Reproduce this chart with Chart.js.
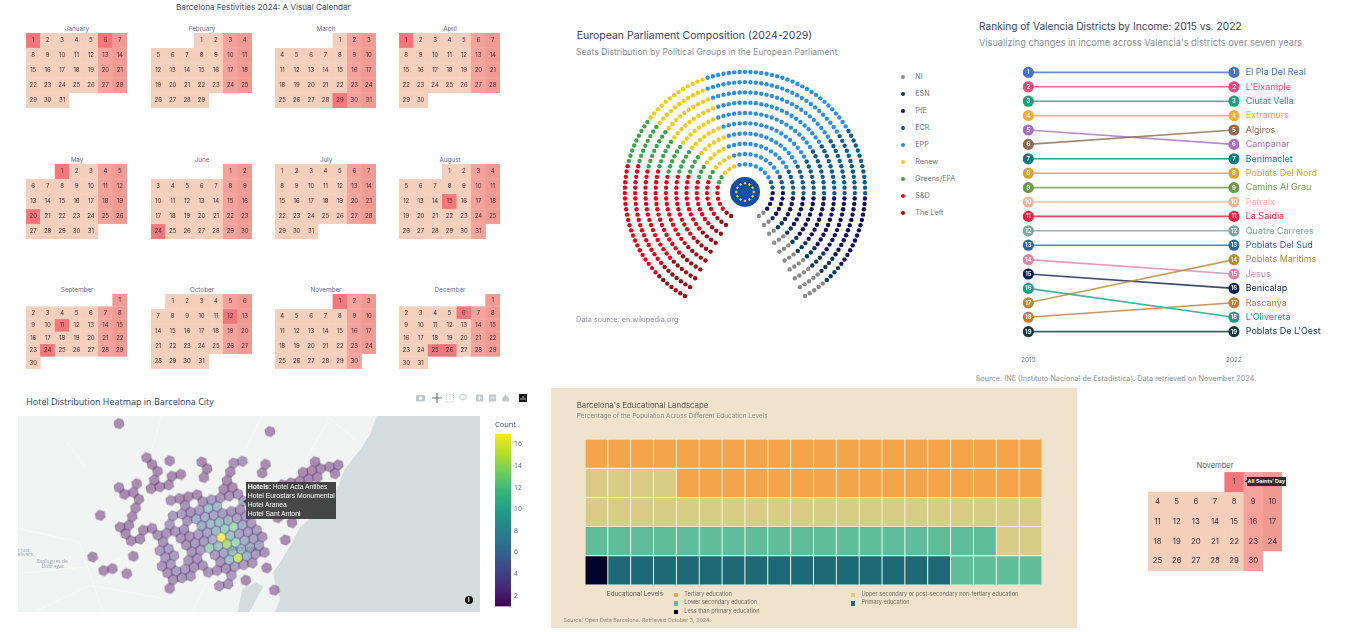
<!DOCTYPE html>
<html>
<head>
<meta charset="utf-8">
<title>Barcelona and Europe dashboards</title>
<script src="https://cdn.jsdelivr.net/npm/chart.js@4"></script>
<style>
    html, body { margin: 0; padding: 0; background: #fff; width: 1358px; height: 632px; overflow: hidden; }
    canvas { position: absolute; display: block; }
    .txt { position: absolute; white-space: nowrap; line-height: 1; }
    .box { position: absolute; }
</style>
</head>
<body>
<script>
// Festivities calendar
const monthNames = ['January', 'February', 'March', 'April', 'May', 'June', 'July', 'August', 'September', 'October', 'November', 'December'];
const monthLengths = [31, 29, 31, 30, 31, 30, 31, 31, 30, 31, 30, 31];
const monthFirstWeekday = [0, 3, 4, 0, 2, 5, 0, 3, 6, 1, 4, 6];
const monthHolidays = [[1, 6], [], [29], [1], [1, 20], [24], [], [15], [11, 24], [12], [1], [6, 25, 26]];
const weekdayLabels = ['Mon', 'Tue', 'Wed', 'Thu', 'Fri', 'Sat', 'Sun'];

// European Parliament
const groupNames = ['The Left', 'S&D', 'Greens/EFA', 'Renew', 'EPP', 'ECR', 'PfE', 'ESN', 'NI'];
const groupSeats = [46, 136, 53, 77, 188, 78, 84, 25, 33];
const rowSeats = [27, 37, 47, 57, 67, 77, 87, 97, 107, 117];
const groupColors = ['#9b0d14', '#dc0a1e', '#3fa34d', '#f6c915', '#2b8fe8', '#0d5c8d', '#12105e', '#0b3a5a', '#8a8a8a'];

// Valencia ranking
const rankYears = ['2015', '2022'];
const districtNames = ['El Pla Del Real', "L'Eixample", 'Ciutat Vella', 'Extramurs', 'Algiros', 'Campanar', 'Benimaclet', 'Poblats Del Nord', 'Camins Al Grau', 'Patraix', 'La Saidia', 'Quatre Carreres', 'Poblats Del Sud', 'Poblats Maritims', 'Jesus', 'Benicalap', 'Rascanya', "L'Olivereta", "Poblats De L'Oest"];
const rank2015 = [1, 2, 3, 4, 6, 5, 7, 8, 9, 10, 11, 12, 13, 17, 14, 15, 18, 16, 19];
const rank2022 = [1, 2, 3, 4, 5, 6, 7, 8, 9, 10, 11, 12, 13, 14, 15, 16, 17, 18, 19];
const districtColors = ['#4472c4', '#e8487c', '#0ba678', '#f9a83c', '#8b6a4f', '#a86fc0', '#0a7c80', '#d9a621', '#6f9a4d', '#f5b39c', '#e0243c', '#7ba79c', '#2a6a9a', '#b08a3e', '#e082a8', '#0f1f4f', '#c07c34', '#15a085', '#123a40'];

// Hotel hexbin: [lattice column, lattice row, hotel count]
const hexCells = [
    [-1, -17, 1], [13, -12, 1], [-1, -12, 1], [-1, -11, 1], [1, -11, 1], [-1, -10, 1], [4, -10, 1],
    [-2, -9, 1], [0, -9, 1], [1, -9, 1], [4, -9, 1], [7, -9, 2], [8, -9, 2], [-4, -9, 1], [-6, -9, 1],
    [-3, -8, 1], [-2, -8, 1], [-1, -8, 1], [3, -8, 1], [6, -8, 1], [10, -8, 1], [-6, -8, 1], [-5, -8, 1],
    [5, -7, 1], [9, -7, 1], [-5, -7, 1], [15, -7, 1],
    [4, -6, 1], [5, -6, 1], [-6, -6, 1], [-10, -6, 1], [-2, -6, 2], [-1, -6, 1], [0, -6, 1], [1, -6, 1],
    [13, -6, 1], [14, -6, 1], [15, -6, 1], [16, -6, 1], [17, -6, 1],
    [-7, -5, 1], [-1, -5, 2], [1, -5, 2], [2, -5, 3], [3, -5, 2], [4, -5, 2], [5, -5, 2],
    [10, -5, 1], [11, -5, 1], [12, -5, 1], [13, -5, 1], [14, -5, 1], [16, -5, 1],
    [-9, -4, 1], [-8, -4, 1], [-3, -4, 3], [-2, -4, 3], [-1, -4, 2], [0, -4, 3], [1, -4, 8], [2, -4, 7], [5, -4, 4],
    [-9, -3, 1], [-7, -3, 1], [-6, -3, 1], [-4, -3, 3], [-2, -3, 2], [-1, -3, 6], [0, -3, 5], [1, -3, 4], [2, -3, 3], [3, -3, 2], [4, -3, 2],
    [-9, -2, 1], [-8, -2, 1], [-6, -2, 2], [-5, -2, 2], [-4, -2, 2], [-3, -2, 2], [-1, -2, 5], [0, -2, 7], [1, -2, 8], [2, -2, 6], [3, -2, 4], [4, -2, 3],
    [-14, -1, 1], [7, -1, 1], [-6, -1, 2], [-4, -1, 2], [-3, -1, 2], [-2, -1, 3], [-1, -1, 4], [0, -1, 7], [1, -1, 10], [2, -1, 12], [3, -1, 5], [4, -1, 3],
    [-10, 0, 1], [8, 0, 1], [-7, 0, 3], [-6, 0, 3], [-4, 0, 2], [-3, 0, 3], [-2, 0, 3], [-1, 0, 5], [0, 0, 17], [1, 0, 8], [2, 0, 4], [3, 0, 3], [4, 0, 3],
    [-14, 1, 1], [-13, 1, 1], [-7, 1, 3], [-6, 1, 3], [-4, 1, 2], [-3, 1, 3], [-2, 1, 11], [-1, 1, 8], [0, 1, 14], [1, 1, 12], [2, 1, 6], [3, 1, 4], [4, 1, 2],
    [-12, 2, 1], [6, 2, 1], [-8, 2, 2], [-7, 2, 3], [-5, 2, 2], [-4, 2, 2], [-2, 2, 3], [-1, 2, 4], [0, 2, 7], [1, 2, 7], [2, 2, 5], [3, 2, 4],
    [-8, 3, 2], [-7, 3, 3], [-6, 3, 3], [-5, 3, 2], [-4, 3, 2], [-2, 3, 2], [-1, 3, 8], [0, 3, 15], [1, 3, 6], [2, 3, 3], [3, 3, 2],
    [-8, 4, 2], [-7, 4, 2], [-6, 4, 2], [-4, 4, 2], [-3, 4, 2], [-2, 4, 2], [-1, 4, 3], [0, 4, 3], [1, 4, 2],
    [-9, 5, 1], [-2, 5, 3], [2, 5, 1], [-4, 6, 2], [-3, 6, 2], [-1, 6, 1], [1, 8, 1]
];
const viridisStops = ['#440154', '#482878', '#3e4989', '#31688e', '#26828e', '#1f9e89', '#35b779', '#6ece58', '#b5de2b', '#fde725'];
const colorbarTicks = [2, 4, 6, 8, 10, 12, 14, 16];
const hotelNames = ['Hotel Eurostars Monumental', 'Hotel Aranea', 'Hotel Sant Antoni'];

// Education waffle, filled from the bottom left
const eduLevels = ['Less than primary education', 'Primary education', 'Lower secondary education', 'Upper secondary or post-secondary non-tertiary education', 'Tertiary education'];
const eduShares = [1, 15, 22, 26, 36];
const eduColors = ['#02022a', '#1b6a75', '#5fbd9b', '#d9cc85', '#f4a549'];

Chart.defaults.font.family = 'Inter';
Chart.defaults.animation = false;
Chart.defaults.responsive = false;
Chart.defaults.events = [];
Chart.defaults.layout.autoPadding = false;
Chart.defaults.plugins.legend.display = false;
Chart.defaults.plugins.tooltip.enabled = false;

const measureCtx = document.createElement('canvas').getContext('2d');

// places a text, if opts.width is given the font size is picked so the text has that width
function addText(text, x, y, opts) {
    const family = opts.family || 'Inter';
    const weight = opts.weight || 400;
    let size = opts.size;
    if (opts.width) {
        measureCtx.font = weight + ' 100px ' + family;
        size = opts.width / measureCtx.measureText(text).width * 100;
    }
    const el = document.createElement('div');
    el.className = 'txt';
    el.textContent = text;
    el.style.left = x + 'px';
    el.style.top = y + 'px';
    el.style.fontFamily = family;
    el.style.fontWeight = weight;
    el.style.fontSize = size + 'px';
    el.style.color = opts.color || '#333';
    el.style.transform = opts.center ? 'translate(-50%, -50%)' : 'translateY(-50%)';
    document.body.appendChild(el);
}

function addBox(x, y, w, h, color, radius) {
    const el = document.createElement('div');
    el.className = 'box';
    el.style.left = x + 'px';
    el.style.top = y + 'px';
    el.style.width = w + 'px';
    el.style.height = h + 'px';
    el.style.background = color;
    if (radius) el.style.borderRadius = radius;
    document.body.appendChild(el);
    return el;
}

function addCanvas(x, y, w, h) {
    const c = document.createElement('canvas');
    c.width = w;
    c.height = h;
    c.style.left = x + 'px';
    c.style.top = y + 'px';
    document.body.appendChild(c);
    return c;
}

// ---------- calendars ----------
const dayLabelsPlugin = {
    id: 'dayLabels',
    afterDatasetsDraw(chart, args, opts) {
        const ctx = chart.ctx;
        ctx.save();
        ctx.font = opts.size + 'px Inter';
        ctx.fillStyle = '#4a2f30';
        ctx.textAlign = 'center';
        ctx.textBaseline = 'middle';
        chart.data.datasets.forEach(function (ds, i) {
            chart.getDatasetMeta(i).data.forEach(function (bar, k) {
                if (ds.dayNumbers[k] == null) return;
                ctx.fillText(ds.dayNumbers[k], bar.x, (bar.y + bar.base) / 2);
            });
        });
        ctx.restore();
    }
};

function cellColor(m, day, weekday) {
    if (monthHolidays[m].indexOf(day) !== -1) return '#f1777c';
    if (weekday === 5) return '#f3a39b';
    if (weekday === 6) return '#ef9a93';
    return '#f3cfbc';
}

function drawMonth(m, x, y, w, h, fontSize) {
    const first = monthFirstWeekday[m];
    const weeks = Math.ceil((first + monthLengths[m]) / 7);
    const datasets = [];
    for (let wk = 0; wk < weeks; wk++) {
        const spans = [];
        const days = [];
        for (let d = 0; d < 7; d++) {
            const day = wk * 7 + d - first + 1;
            const inMonth = day >= 1 && day <= monthLengths[m];
            spans.push(inMonth ? [wk, wk + 1] : null);
            days.push(inMonth ? day : null);
        }
        datasets.push({
            data: spans,
            dayNumbers: days,
            backgroundColor: function (c) { return cellColor(m, days[c.dataIndex], c.dataIndex); },
            borderColor: function (c) { return cellColor(m, days[c.dataIndex], c.dataIndex); },
            borderWidth: 0.5,
            borderSkipped: false
        });
    }
    new Chart(addCanvas(x, y, w, h), {
        type: 'bar',
        data: { labels: weekdayLabels, datasets: datasets },
        options: {
            grouped: false,
            barPercentage: 1,
            categoryPercentage: 1,
            plugins: { dayLabels: { size: fontSize } },
            scales: {
                x: { display: false },
                y: { display: false, reverse: true, min: 0, max: weeks }
            }
        },
        plugins: [dayLabelsPlugin]
    });
}

addText('Barcelona Festivities 2024: A Visual Calendar', 176, 6.5, { width: 175, color: '#3d4a6b' });

const calendarLefts = [26, 151, 275, 399];
const calendarTops = [33, 164, 294];
monthNames.forEach(function (name, m) {
    const col = m % 4;
    const row = Math.floor(m / 4);
    drawMonth(m, calendarLefts[col], calendarTops[row], 101, 75, 6);
    addText(name, calendarLefts[col] + 51, calendarTops[row] - 4.2, { size: 6.3, color: '#5d6a88', center: true });
});

// the enlarged November
drawMonth(10, 1148, 472, 134, 99, 7.8);
addText('November', 1215, 466, { width: 37, color: '#4f5c7c', center: true });
addBox(1247, 477, 39, 9, '#2d2d2d');
addBox(1244.5, 479, 4, 4.5, '#2d2d2d').style.clipPath = 'polygon(100% 0, 100% 100%, 0 50%)';
addText("All Saints' Day", 1247.6, 481.5, { width: 37.5, color: '#fff', family: 'Liberation Sans', weight: 700 });

// ---------- parliament ----------
const rowUnit = 10.27;
const seats = [];
rowSeats.forEach(function (n, r) {
    const radius = r + 2.7;
    for (let i = 0; i < n; i++) {
        const theta = (30 + 300 * i / (n - 1)) * Math.PI / 180;
        seats.push({ theta: theta, x: -radius * Math.sin(theta), y: -radius * Math.cos(theta) });
    }
});
seats.sort(function (a, b) { return a.theta - b.theta; });

const seatDatasets = [];
let seatIndex = 0;
groupSeats.forEach(function (count, g) {
    seatDatasets.push({
        label: groupNames[g],
        data: seats.slice(seatIndex, seatIndex + count),
        backgroundColor: groupColors[g],
        borderWidth: 0,
        pointRadius: 2.2
    });
    seatIndex += count;
});

const euStars = [];
for (let i = 0; i < 12; i++) {
    euStars.push({ x: 0.85 * Math.cos(i * Math.PI / 6), y: 0.85 * Math.sin(i * Math.PI / 6) });
}
seatDatasets.unshift({ label: 'stars', data: euStars, pointStyle: 'rectRot', pointRadius: 1.5, borderWidth: 0, backgroundColor: '#f2d94e', order: -1 });
seatDatasets.push({ label: 'EU', data: [{ x: 0, y: 0 }], pointRadius: 15, borderWidth: 0, backgroundColor: '#0d4fa3', order: 5 });

new Chart(addCanvas(620, 67, 250, 250), {
    type: 'scatter',
    data: { datasets: seatDatasets },
    options: {
        scales: {
            x: { display: false, min: -125 / rowUnit, max: 125 / rowUnit },
            y: { display: false, min: -125 / rowUnit, max: 125 / rowUnit }
        }
    }
});

addText('European Parliament Composition (2024-2029)', 576.7, 36, { width: 235.6, color: '#3b4160' });
addText('Seats Distribution by Political Groups in the European Parliament', 576, 51.7, { width: 261.7, color: '#8b8f97' });
addText('Data source: en.wikipedia.org', 576, 320.3, { width: 102.7, color: '#8b8f97' });
groupNames.slice().reverse().forEach(function (name, i) {
    const y = 77.3 + i * 17;
    addBox(901, y - 2.2, 4.4, 4.4, groupColors[groupNames.length - 1 - i], '50%');
    addText(name, 915.3, y, { size: 7.2, color: '#6d7480' });
});

// ---------- ranking ----------
const rankLabelsPlugin = {
    id: 'rankLabels',
    afterDatasetsDraw(chart) {
        const ctx = chart.ctx;
        ctx.save();
        ctx.textBaseline = 'middle';
        chart.data.datasets.forEach(function (ds, i) {
            const pts = chart.getDatasetMeta(i).data;
            ctx.fillStyle = '#fff';
            ctx.textAlign = 'center';
            ctx.font = '600 6px Inter';
            pts.forEach(function (p, k) {
                ctx.fillText(ds.data[k], p.x, p.y + 0.3);
            });
            ctx.fillStyle = ds.pointBackgroundColor;
            ctx.textAlign = 'left';
            ctx.font = '9px Inter';
            ctx.fillText(ds.label, pts[1].x + 11.7, pts[1].y);
        });
        ctx.restore();
    }
};

new Chart(addCanvas(1000, 58, 350, 314), {
    type: 'line',
    data: {
        labels: rankYears,
        datasets: districtNames.map(function (name, i) {
            return {
                label: name,
                data: [rank2015[i], rank2022[i]],
                borderColor: districtColors[i] + 'd0',
                borderWidth: 1.6,
                pointBackgroundColor: districtColors[i],
                pointBorderWidth: 0,
                pointRadius: 5.6
            };
        })
    },
    options: {
        layout: { padding: { left: 28.3, right: 116 } },
        scales: {
            x: {
                offset: false,
                grid: { display: false, drawTicks: false },
                border: { display: false },
                ticks: { color: '#6f7680', font: { size: 6.5 }, padding: 10 },
                afterFit: function (axis) { axis.height = 26; }
            },
            y: { display: false, reverse: true, min: 0, max: 20 }
        }
    },
    plugins: [rankLabelsPlugin]
});

addText('Ranking of Valencia Districts by Income: 2015 vs. 2022', 979, 26, { width: 263, color: '#3d4258' });
addText("Visualizing changes in income across Valencia's districts over seven years", 979, 42.7, { width: 323.7, color: '#8b8f97' });
addText('Source: INE (Instituto Nacional de Estadística). Data retrieved on November 2024.', 975.7, 378.7, { width: 281, color: '#8b8f97' });

// ---------- hexbin map ----------
const seaOutline = [[1095, 93], [1075, 150], [1050, 190], [1000, 255], [985, 300], [955, 350], [900, 400], [870, 430], [850, 470], [815, 530], [795, 560], [800, 600], [815, 640], [800, 680], [1395, 680], [1395, 93]];
const portBasin = [[705, 610], [745, 590], [765, 605], [725, 680], [690, 680]];
const mapRoads = [
    [[470, 93], [440, 200], [395, 340], [380, 430], [370, 560]],
    [[53, 565], [300, 540], [480, 470], [700, 420]],
    [[960, 93], [880, 240], [800, 290]],
    [[760, 93], [700, 220], [640, 330]],
    [[560, 680], [600, 590], [640, 470]],
    [[950, 93], [1040, 170]],
    [[195, 170], [250, 250]],
    [[53, 430], [230, 470], [300, 680]],
    [[100, 680], [260, 600], [480, 640]]
];
const mapPlaceNames = [['t Just', 70, 495], ['Desvern', 70, 509], ['Esplugues de', 153, 530], ['Llobregat', 153, 545], ['BARCELONA', 707, 492]];

function hexColor(count, alpha) {
    const t = (count - 1) / 16 * (viridisStops.length - 1);
    const lo = Math.floor(t);
    const hi = Math.min(lo + 1, viridisStops.length - 1);
    const a = parseInt(viridisStops[lo].slice(1), 16);
    const b = parseInt(viridisStops[hi].slice(1), 16);
    const f = t - lo;
    const mix = function (s) { return Math.round((a >> s & 255) * (1 - f) + (b >> s & 255) * f); };
    return 'rgba(' + mix(16) + ',' + mix(8) + ',' + mix(0) + ',' + alpha + ')';
}

function hexSprite(count) {
    const size = 14;
    const c = document.createElement('canvas');
    c.width = size;
    c.height = size;
    const ctx = c.getContext('2d');
    ctx.beginPath();
    for (let k = 0; k < 6; k++) {
        const ang = (18 + 60 * k) * Math.PI / 180;
        ctx.lineTo(size / 2 + 5.4 * Math.cos(ang), size / 2 + 5.4 * Math.sin(ang));
    }
    ctx.closePath();
    ctx.fillStyle = hexColor(count, count > 12 ? 0.65 : 0.42);
    ctx.fill();
    ctx.strokeStyle = 'rgba(68,1,84,0.42)';
    ctx.lineWidth = 0.6;
    ctx.stroke();
    return c;
}

const mapBasePlugin = {
    id: 'mapBase',
    beforeDatasetsDraw(chart) {
        const ctx = chart.ctx;
        const sx = chart.scales.x;
        const sy = chart.scales.y;
        const trace = function (points) {
            ctx.beginPath();
            points.forEach(function (p) { ctx.lineTo(sx.getPixelForValue(p[0]), sy.getPixelForValue(p[1])); });
        };
        ctx.save();
        ctx.fillStyle = '#f2f3f3';
        ctx.fillRect(0, 0, chart.width, chart.height);
        ctx.strokeStyle = '#fafafa';
        ctx.lineWidth = 0.8;
        mapRoads.forEach(function (road) { trace(road); ctx.stroke(); });
        ctx.fillStyle = '#d5dcde';
        trace(seaOutline);
        ctx.fill();
        trace(portBasin);
        ctx.fill();
        ctx.fillStyle = '#9aa3a8';
        ctx.font = '5px "Open Sans"';
        ctx.textAlign = 'center';
        ctx.textBaseline = 'middle';
        mapPlaceNames.forEach(function (p) { ctx.fillText(p[0], sx.getPixelForValue(p[1]), sy.getPixelForValue(p[2])); });
        ctx.restore();
    }
};

// lattice is tilted with the map, one column is (25.6, -5.6) and one row (16, 20.4) in map units
const hexPoints = hexCells.map(function (cell) {
    return { x: 644 + 25.6 * cell[0] + 16 * cell[1], y: 457 - 5.6 * cell[0] + 20.4 * cell[1] };
});

new Chart(addCanvas(18, 416, 462, 196), {
    type: 'scatter',
    data: {
        datasets: [{
            label: 'Count',
            data: hexPoints,
            pointStyle: hexCells.map(function (cell) { return hexSprite(cell[2]); }),
            pointRadius: 5
        }]
    },
    options: {
        scales: {
            x: { display: false, min: 53, max: 1395 },
            y: { display: false, reverse: true, min: 93, max: 680 }
        }
    },
    plugins: [mapBasePlugin]
});

addText('Hotel Distribution Heatmap in Barcelona City', 26.2, 400.5, { width: 188, color: '#2a3f5f', family: 'Open Sans' });
addBox(464.7, 596, 8, 8, '#111', '50%');
addText('i', 468.7, 600, { size: 6.5, color: '#fff', weight: 700, family: 'Open Sans', center: true });

// plotly style toolbar
const modebar = document.createElement('div');
modebar.innerHTML = '<svg width="140" height="14" style="position:absolute;left:413px;top:391px" fill="#c4c8cc" stroke="none">' +
    '<rect x="3" y="4" width="9" height="6.5" rx="1"/><circle cx="7.5" cy="7.2" r="1.7" fill="#fff"/>' +
    '<path d="M24 2v10M19 7h10" stroke="#6d7480" stroke-width="1.2"/>' +
    '<rect x="33.5" y="3" width="7" height="8" fill="none" stroke="#c4c8cc" stroke-dasharray="1 1"/>' +
    '<ellipse cx="50" cy="6" rx="3.4" ry="2.8" fill="none" stroke="#c4c8cc"/>' +
    '<rect x="63" y="3.5" width="7" height="7"/><path d="M64.5 7h4M66.5 5v4" stroke="#fff"/>' +
    '<rect x="76" y="3.5" width="7" height="7"/><path d="M77.5 7h4" stroke="#fff"/>' +
    '<path d="M89 7.5l3.5-4 3.5 4v3h-7z"/>' +
    '<rect x="106" y="3" width="8" height="8" fill="#111"/><path d="M108 9V7M110 9V5M112 9V6.5" stroke="#ddd" stroke-width="0.8"/>' +
    '</svg>';
document.body.appendChild(modebar);

// hover box as in the reference
addBox(246, 482.3, 90, 36.7, 'rgba(60,60,60,0.95)');
addBox(243, 499, 3.2, 5, 'rgba(60,60,60,0.95)').style.clipPath = 'polygon(100% 0, 100% 100%, 0 50%)';
addText('Hotels:', 247.7, 486.9, { width: 23.6, color: '#fff', family: 'Liberation Sans', weight: 700 });
addText('Hotel Acta Antibes', 272.7, 486.9, { width: 55.6, color: '#fff', family: 'Liberation Sans' });
const hotelWidths = [87.3, 39.6, 53.3];
hotelNames.forEach(function (name, i) {
    addText(name, 247.7, 496 + i * 9.1, { width: hotelWidths[i], color: '#fff', family: 'Liberation Sans' });
});

// colorbar with its own axis
new Chart(addCanvas(495, 425, 45, 189), {
    type: 'bar',
    data: {
        labels: ['Count'],
        datasets: [{
            data: [[1, 17]],
            borderSkipped: false,
            backgroundColor: function (c) {
                const area = c.chart.chartArea;
                if (!area) return viridisStops[0];
                const grad = c.chart.ctx.createLinearGradient(0, area.bottom, 0, area.top);
                viridisStops.forEach(function (col, i) { grad.addColorStop(i / (viridisStops.length - 1), col); });
                return grad;
            }
        }]
    },
    options: {
        barPercentage: 1,
        categoryPercentage: 1,
        layout: { padding: { top: 8.5, bottom: 7.5 } },
        scales: {
            x: { display: false },
            y: {
                position: 'right',
                min: 1,
                max: 17,
                grid: { display: false, drawTicks: false },
                border: { display: false },
                ticks: { color: '#58647a', font: { family: 'Open Sans', size: 6.8 }, padding: 3 },
                afterBuildTicks: function (axis) { axis.ticks = colorbarTicks.map(function (v) { return { value: v }; }); },
                afterFit: function (axis) { axis.width = 29; }
            }
        }
    }
});
addText('Count', 495, 425, { width: 21, color: '#3f4d63', family: 'Open Sans' });

// ---------- education waffle ----------
addBox(551, 388, 526, 240, '#f0e2cd');

const waffleCols = [];
for (let i = 1; i <= 20; i++) waffleCols.push(String(i));

const waffleColors = [];
eduShares.forEach(function (share, lvl) {
    for (let i = 0; i < share; i++) waffleColors.push(eduColors[lvl]);
});

const waffleRows = [];
for (let r = 0; r < 5; r++) {
    waffleRows.push({
        data: waffleCols.map(function () { return [r, r + 1]; }),
        backgroundColor: waffleColors.slice(r * 20, (r + 1) * 20),
        borderColor: '#fbf5ea',
        borderWidth: 0.8,
        borderSkipped: false
    });
}

new Chart(addCanvas(585, 439, 457, 146), {
    type: 'bar',
    data: { labels: waffleCols, datasets: waffleRows },
    options: {
        grouped: false,
        barPercentage: 1,
        categoryPercentage: 1,
        scales: {
            x: { display: false },
            y: { display: false, min: 0, max: 5 }
        }
    }
});

addText("Barcelona's Educational Landscape", 576.7, 406.3, { width: 132, color: '#57524a' });
addText('Percentage of the Population Across Different Education Levels', 576.7, 416.3, { width: 191.6, color: '#8f8a7e' });
addText('Educational Levels', 606.8, 594.3, { width: 56.4, color: '#57524a' });
addText('Source: Open Data Barcelona. Retrieved October 3, 2024.', 563.5, 621, { width: 148, color: '#8f8a7e' });

// order follows eduLevels: less, primary, lower, upper, tertiary
[[675.7, 611.7, 75.4], [852.8, 603.3, 48.3], [675.7, 603.3, 73], [852.8, 595, 157.5], [675.7, 595, 47.7]].forEach(function (slot, i) {
    addBox(slot[0] - 2.2, slot[1] - 2.2, 4.5, 4.5, eduColors[i]);
    addText(eduLevels[i], slot[0] + 8.6, slot[1], { width: slot[2], color: '#6f6a60' });
});
</script>
</body>
</html>
